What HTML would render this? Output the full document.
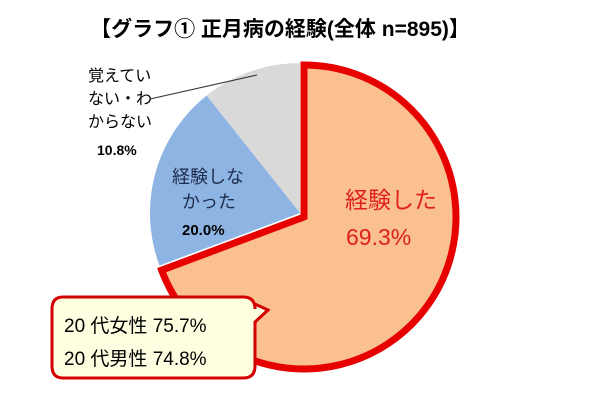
<!DOCTYPE html>
<html><head><meta charset="utf-8"><style>
body{margin:0;background:#fff;width:600px;height:409px;overflow:hidden}
svg text{font-family:"Liberation Sans","Noto Sans CJK JP",sans-serif}
</style></head><body>
<svg width="600" height="409" viewBox="0 0 600 409">
<text x="280" y="36" text-anchor="middle" font-size="21" font-weight="bold" fill="#000">【グラフ①  正月病の経験(全体 n=895)】</text>
<path d="M300,213 L300,63 A150,150 0 0 0 206.6,95.6 Z" fill="#d9d9d9"/>
<path d="M300,213 L206.6,95.6 A150,150 0 0 0 159.5,265.5 Z" fill="#8eb4e3"/>
<path d="M304,217 L304,65 A152,152 0 1 1 161.6,270.2 Z" fill="#fac090" stroke="#e60000" stroke-width="7" stroke-linejoin="miter"/>
<line x1="150" y1="99" x2="257" y2="75" stroke="#333" stroke-width="1"/>
<g font-size="16" fill="#000">
<text x="88" y="81">覚えてい</text>
<text x="88" y="104">ない・わ</text>
<text x="88" y="127">からない</text>
<text x="97" y="155" font-weight="bold" font-size="14">10.8%</text>
</g>
<g font-size="18" fill="#1f2d4d">
<text x="172" y="183">経験しな</text>
<text x="182" y="208">かった</text>
<text x="182" y="235" font-weight="bold" font-size="15" fill="#000">20.0%</text>
</g>
<text x="345" y="208" font-size="23" fill="#e02020">経験した</text>
<text x="346" y="245" font-size="23" fill="#e02020">69.3%</text>
<path d="M63,297 H243 Q255,297 255,309 V304 L268,310 L255,322 V366 Q255,378 243,378 H63 Q52,378 52,366 V309 Q52,297 63,297 Z" fill="#fefee0" stroke="#d40000" stroke-width="3"/>
<text x="64" y="332" font-size="19" fill="#000">20 代女性 75.7%</text>
<text x="64" y="365" font-size="19" fill="#000">20 代男性 74.8%</text>
</svg>
</body></html>
